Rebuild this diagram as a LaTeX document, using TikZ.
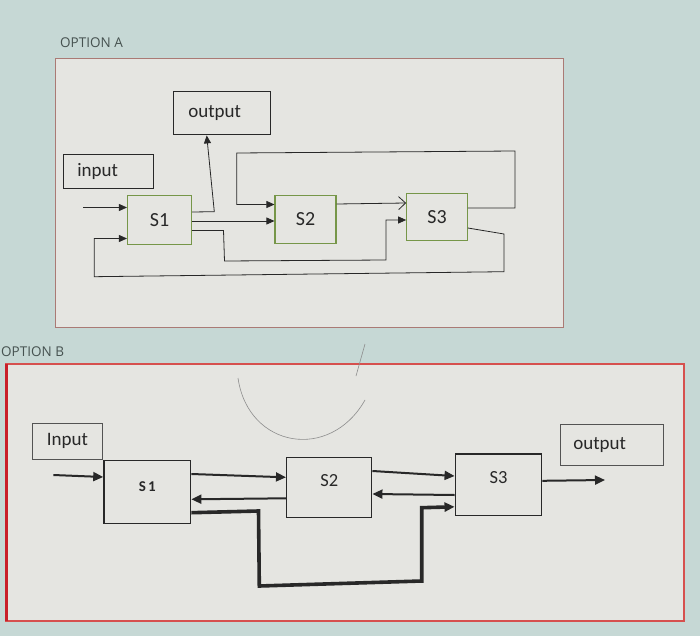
\documentclass[tikz,border=0pt]{standalone}
\usepackage{fontspec}
\setmainfont{Carlito}
\newfontfamily\optfont{Open Sans}
\usetikzlibrary{arrows.meta}

\definecolor{bgcol}{RGB}{198,216,213}
\definecolor{panelcol}{RGB}{229,229,225}
\definecolor{framea}{RGB}{170,122,117}
\definecolor{frameb}{RGB}{214,80,78}
\definecolor{frameleft}{RGB}{200,32,42}
\definecolor{agreen}{RGB}{118,150,72}
\definecolor{inkcol}{RGB}{40,40,40}
\definecolor{optcol}{RGB}{70,82,80}
\definecolor{pencil}{RGB}{140,140,140}

\tikzset{
    labelfont/.style={font=\fontsize{19}{22}\selectfont, text=inkcol},
    stagea/.style={draw=agreen, line width=1.1pt, inner sep=0pt, font=\fontsize{20}{23}\selectfont, text=inkcol},
    terma/.style={draw=inkcol, line width=0.9pt, align=left, labelfont},
    stageb/.style={draw=inkcol, line width=1.5pt, inner sep=0pt, text depth=14pt,
        font=\fontsize{18.5}{21}\selectfont, text=inkcol},
    termb/.style={draw=inkcol!80, line width=1pt, labelfont},
    linka/.style={draw=inkcol, line width=0.8pt},
    flowa/.style={linka, -{Triangle[length=8pt,width=7pt]}},
    flowb/.style={draw=inkcol, line width=2pt, -{Triangle[length=10pt,width=9pt]}},
    optlabel/.style={font=\optfont\fontsize{13.5}{16}\selectfont, text=optcol, anchor=west, inner sep=0pt},
}

\begin{document}
\begin{tikzpicture}[x=1pt,y=-1pt]
    \useasboundingbox (0,0) rectangle (700,636);
    \fill[bgcol] (0,0) rectangle (700,636);

    % Option A panel
    \node[optlabel] (tita) at (60,43) {OPTION A};
    \draw[framea, line width=1pt, fill=panelcol] (55,59) rectangle (563,327);

    \node[terma, text width=62pt, inner xsep=14pt, minimum height=34pt] (ain) at (108.3,171) {input};
    \node[terma, text width=66.7pt, inner xsep=15pt, minimum height=43.3pt] (aout) at (221.7,113.3) {output};
    \node[stagea, minimum width=64pt, minimum height=49pt] (a1) at (159.5,220) {S1};
    \node[stagea, minimum width=61pt, minimum height=47.6pt] (a2) at (305.5,219.5) {S2};
    \node[stagea, minimum width=60.6pt, minimum height=47.4pt] (a3) at (437,217) {S3};
    \coordinate (asrc) at (83.3,207.5);

    % connections of option A
    \draw[flowa] (asrc) -- ([yshift=12.5pt]a1.west);
    \draw[flowa] ([yshift=8pt]a1.east) -- (214.3,211.7) -- ([xshift=-15pt]aout.south);
    \draw[flowa] ([yshift=-1pt]a1.east) -- ([yshift=-1.5pt]a2.west);
    \draw[flowa] ([yshift=-10.5pt]a1.east) -- (223.5,230.5) -- (224.5,261) -- (386,260) |- ([yshift=-3pt]a3.west);
    \draw[flowa] ([yshift=9pt]a3.east) -- (515,208) -- (515,151) -- (236.7,153) |- ([yshift=15pt]a2.west);
    \draw[linka, -{Straight Barb[length=7pt,width=13pt]}] ([yshift=15.5pt]a2.east) -- ([yshift=14pt]a3.west);
    \draw[flowa] ([yshift=-11pt]a3.east) -- (504,234) -- (504,271.7) -- (94.3,276.7) |- ([yshift=-18.5pt]a1.west);

    % Option B panel
    \node[optlabel] (titb) at (1,352) {OPTION B};
    \draw[frameb, line width=1.2pt, fill=panelcol] (6,364) rectangle (684,621);
    \draw[frameleft, line width=3pt] (6,364) -- (6,621);

    \node[termb, minimum width=70.4pt, minimum height=35.7pt] (bin) at (67.5,441.2) {Input};
    \node[termb, text width=76.7pt, inner xsep=13.3pt, align=left, minimum height=41.3pt] (bout) at (611.7,444.7) {output};
    \node[stageb, text depth=10pt, font=\bfseries\fontsize{15}{18}\selectfont, minimum width=86.7pt, minimum height=62.6pt] (b1) at (147.3,492) {S\kern2pt 1};
    \node[stageb, minimum width=85pt, minimum height=60pt] (b2) at (329.2,487.3) {S2};
    \node[stageb, minimum width=86.4pt, minimum height=61.7pt] (b3) at (498.5,484.8) {S3};
    \coordinate (bsrc) at (53.3,475);
    \coordinate (bsink) at (605,480);

    % connections of option B
    \draw[flowb] (bsrc) -- ([yshift=15pt]b1.west);
    \draw[flowb] ([yshift=18pt]b1.east) -- ([yshift=10pt]b2.west);
    \draw[flowb] ([yshift=-11pt]b2.west) -- ([yshift=-7.3pt]b1.east);
    \draw[flowb] ([yshift=16.3pt]b2.east) -- ([yshift=8.8pt]b3.west);
    \draw[flowb] ([yshift=-10.2pt]b3.west) -- ([yshift=-6.7pt]b2.east);
    \draw[flowb] ([yshift=4pt]b3.east) -- (bsink);
    \draw[flowb, line width=3.6pt, line join=miter] ([yshift=-20.7pt]b1.east) -- (258.5,511) -- (259.3,586) -- (421.7,581) -- (421.7,507.7) -- ([yshift=-22pt]b3.west);

    % pencil marks
    \draw[pencil, line width=0.6pt] (238,378) .. controls (248,448) and (330,462) .. (365,400);
    \draw[pencil, line width=0.6pt] (365,344) -- (356,376);
\end{tikzpicture}
\end{document}
